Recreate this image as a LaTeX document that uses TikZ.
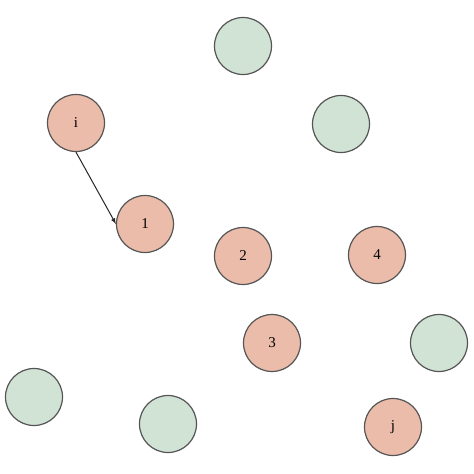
\documentclass[tikz,border=0pt]{standalone}
\usepackage{fontspec}
\setmainfont{Liberation Serif}
\usepackage{tikz}

\definecolor{pinkfill}{HTML}{EBBCA9}
\definecolor{greenfill}{HTML}{D0E3D5}
\definecolor{rimgray}{HTML}{555555}

\begin{document}
\begin{tikzpicture}[x=1pt, y=-1pt,
    knoten/.style={circle, draw=rimgray, line width=1.2pt, minimum size=57pt, inner sep=0pt, font=\fontsize{15}{17}\selectfont},
    rot/.style={knoten, fill=pinkfill},
    gruen/.style={knoten, fill=greenfill}]
    \useasboundingbox (0,0) rectangle (474,474);

    % Knoten auf dem Pfad
    \node[rot] (i) at (76,123) {i};
    \node[rot] (n1) at (145,224) {1};
    \node[rot] (n2) at (243,256) {2};
    \node[rot] (n3) at (272,343) {3};
    \node[rot] (n4) at (377,255) {4};
    \node[rot] (j) at (393,427) {j};

    % restliche Knoten
    \foreach \pos/\name in {{243,46}/g1, {341,124}/g2, {439,343}/g3, {34,397}/g4, {168,424}/g5}
    {
        \node[gruen] (\name) at (\pos) {};
    }

    \draw[-latex, line width=1pt, draw=black!85] (i.south) -- (n1.west);
\end{tikzpicture}
\end{document}
